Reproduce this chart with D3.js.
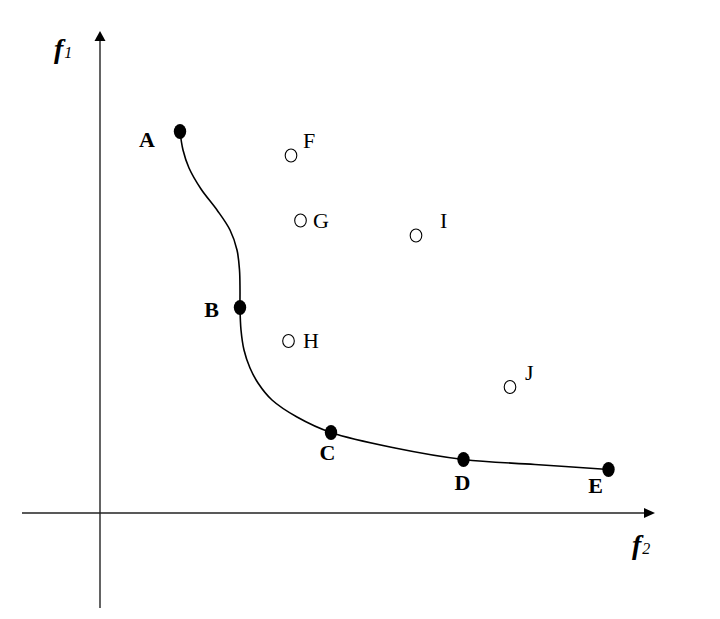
<!DOCTYPE html>
<html>
<head>
<meta charset="utf-8">
<script src="https://cdn.jsdelivr.net/npm/d3@7"></script>
<style>
  html, body { margin: 0; padding: 0; background: #fff; }
  svg { display: block; }
</style>
</head>
<body>
<svg id="chart" width="720" height="619"></svg>
<script>
// ---- data (objective space units) ----
const paretoNames = ["A", "B", "C", "D", "E"];
const paretoF2 = [1.6, 2.8, 4.62, 7.27, 10.17];
const paretoF1 = [7.63, 4.11, 1.61, 1.07, 0.87];

const dominatedNames = ["F", "G", "I", "H", "J"];
const dominatedF2 = [3.82, 4.01, 6.32, 3.77, 8.2];
const dominatedF1 = [7.15, 5.85, 5.55, 3.44, 2.52];

// sampled points along the Pareto front curve
const frontF2 = [1.6, 1.66, 1.78, 2.02, 2.34, 2.6, 2.74, 2.79, 2.8, 2.8, 2.82, 2.88, 3.0, 3.16, 3.44, 3.94, 4.62, 5.9, 7.27, 8.7, 10.17];
const frontF1 = [7.63, 7.26, 6.9, 6.48, 6.06, 5.66, 5.26, 4.86, 4.46, 4.11, 3.66, 3.26, 2.9, 2.6, 2.26, 1.92, 1.61, 1.3, 1.07, 0.97, 0.87];

const xDomain = [-1.56, 11.1];
const yDomain = [-1.9, 9.64];

// ---- layout ----
const labelOffsets = {
  A: [-33, 15.5], B: [-28.5, 9.5], C: [-3.5, 27.5], D: [-1, 30.5], E: [-13, 23.5],
  F: [12, -7.5], G: [12.5, 7.5], I: [24, -7.5], H: [14.5, 7], J: [15, -7]
};
const serif = "'Liberation Serif', 'Times New Roman', serif";

const svg = d3.select("#chart");
const x = d3.scaleLinear().domain(xDomain).range([22, 655]);
const y = d3.scaleLinear().domain(yDomain).range([608, 31]);

// axes
const axisColor = "#222";
svg.append("line")
  .attr("x1", x(xDomain[0])).attr("x2", x(xDomain[1]) - 8)
  .attr("y1", y(0)).attr("y2", y(0))
  .attr("stroke", axisColor).attr("stroke-width", 1.4);
svg.append("line")
  .attr("x1", x(0)).attr("x2", x(0))
  .attr("y1", y(yDomain[0])).attr("y2", y(yDomain[1]) + 8)
  .attr("stroke", axisColor).attr("stroke-width", 1.4);
// arrowheads
const xt = x(xDomain[1]), yt = y(0);
svg.append("path")
  .attr("d", `M${xt},${yt}L${xt - 11},${yt - 5}L${xt - 11},${yt + 5}Z`)
  .attr("fill", "#000");
const ax = x(0), ayt = y(yDomain[1]);
svg.append("path")
  .attr("d", `M${ax},${ayt}L${ax - 5.5},${ayt + 10}L${ax + 5.5},${ayt + 10}Z`)
  .attr("fill", "#000");

// axis labels
function axisLabel(px, py, sub) {
  const t = svg.append("text")
    .attr("x", px).attr("y", py)
    .attr("font-family", serif);
  t.append("tspan").text("f")
    .attr("font-size", 28).attr("font-weight", "bold").attr("font-style", "italic");
  t.append("tspan").text(sub)
    .attr("font-size", 16).attr("font-style", "italic").attr("dx", 1);
}
axisLabel(54, 58, "1");
axisLabel(632, 554, "2");

// Pareto front curve
const front = frontF2.map((v, i) => [v, frontF1[i]]);
svg.append("path")
  .datum(front)
  .attr("d", d3.line().x(d => x(d[0])).y(d => y(d[1])).curve(d3.curveCatmullRom.alpha(0.5)))
  .attr("fill", "none").attr("stroke", "#000").attr("stroke-width", 1.6);

// dominated points (open)
const dominated = dominatedNames.map((n, i) => ({ n, f2: dominatedF2[i], f1: dominatedF1[i] }));
svg.selectAll("ellipse.dom").data(dominated).enter().append("ellipse")
  .attr("class", "dom")
  .attr("cx", d => x(d.f2)).attr("cy", d => y(d.f1))
  .attr("rx", 5.8).attr("ry", 6.5)
  .attr("fill", "#fff").attr("stroke", "#000").attr("stroke-width", 1.1);
svg.selectAll("text.dom").data(dominated).enter().append("text")
  .attr("class", "dom")
  .attr("x", d => x(d.f2) + labelOffsets[d.n][0])
  .attr("y", d => y(d.f1) + labelOffsets[d.n][1])
  .attr("font-family", serif).attr("font-size", 22)
  .attr("fill", "#000")
  .text(d => d.n);

// Pareto points (filled)
const pareto = paretoNames.map((n, i) => ({ n, f2: paretoF2[i], f1: paretoF1[i] }));
svg.selectAll("ellipse.par").data(pareto).enter().append("ellipse")
  .attr("class", "par")
  .attr("cx", d => x(d.f2)).attr("cy", d => y(d.f1))
  .attr("rx", 6.2).attr("ry", 7.5)
  .attr("fill", "#000");
svg.selectAll("text.par").data(pareto).enter().append("text")
  .attr("class", "par")
  .attr("x", d => x(d.f2) + labelOffsets[d.n][0])
  .attr("y", d => y(d.f1) + labelOffsets[d.n][1])
  .attr("text-anchor", "middle")
  .attr("font-family", serif).attr("font-size", 22).attr("font-weight", "bold")
  .attr("fill", "#000")
  .text(d => d.n);
</script>
</body>
</html>
